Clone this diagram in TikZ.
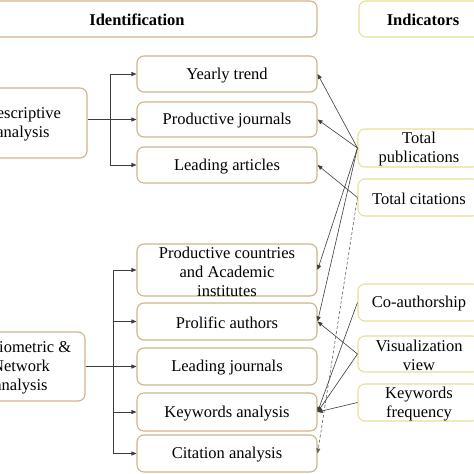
\documentclass[tikz,border=0pt]{standalone}
\usepackage{fontspec}
\setmainfont{Liberation Serif}
\usetikzlibrary{arrows.meta}
\definecolor{tanb}{RGB}{206,180,136}
\definecolor{yelb}{RGB}{232,224,150}
\definecolor{linec}{RGB}{60,60,60}
\begin{document}
\begin{tikzpicture}[x=1pt,y=-1pt,
  box/.style={draw=tanb, line width=1.1pt, rounded corners=7pt, fill=white, inner sep=0pt},
  ybox/.style={draw=yelb, line width=1.1pt, rounded corners=7pt, fill=white, inner sep=0pt},
  txt/.style={font=\fontsize{16.5}{19}\selectfont, align=center, inner sep=0pt, yshift=-1.5pt},
  btxt/.style={font=\fontsize{16.5}{19}\selectfont\bfseries, align=center, inner sep=0pt, yshift=-1pt},
  conn/.style={draw=linec, line width=0.6pt, -{Triangle[length=5pt,width=4pt]}},
  dconn/.style={conn, draw=linec!80, densely dashed},
  plain/.style={draw=linec, line width=0.6pt}]
\useasboundingbox (0,0) rectangle (474,474);
\fill[white] (0,0) rectangle (474,474);

% headers
\node[box, minimum width=360pt, minimum height=36pt, label={[btxt]center:Identification}] (ident) at (137,19) {};
\node[ybox, minimum width=128pt, minimum height=36pt, label={[btxt]center:Indicators}] (indic) at (423,19) {};

% left groups
\node[box, minimum width=128pt, minimum height=70pt, label={[txt]center:Descriptive\\analysis}] (da) at (23,123) {};
\node[box, minimum width=128pt, minimum height=69pt, label={[txt]center:Bibliometric \&\\Network\\analysis}] (bn) at (21,366.5) {};

% middle boxes
\node[box, minimum width=180pt, minimum height=36pt, label={[txt]center:Yearly trend}] (yt) at (227,74) {};
\node[box, minimum width=180pt, minimum height=35pt, label={[txt]center:Productive journals}] (pj) at (227,119.5) {};
\node[box, minimum width=180pt, minimum height=36pt, label={[txt]center:Leading articles}] (la) at (227,165) {};
\node[box, minimum width=180pt, minimum height=52pt, label={[txt]center:Productive countries\\and Academic\\institutes}] (pc) at (227,270) {};
\node[box, minimum width=180pt, minimum height=37pt, label={[txt]center:Prolific authors}] (pa) at (227,321.5) {};
\node[box, minimum width=180pt, minimum height=37pt, label={[txt]center:Leading journals}] (lj) at (227,366.5) {};
\node[box, minimum width=180pt, minimum height=38pt, label={[txt]center:Keywords analysis}] (kw) at (227,412) {};
\node[box, minimum width=180pt, minimum height=37pt, label={[txt]center:Citation analysis}] (ca) at (227,453.5) {};

% indicator boxes
\node[ybox, minimum width=122pt, minimum height=38pt, label={[txt]center:Total\\publications}] (tp) at (419,148) {};
\node[ybox, minimum width=122pt, minimum height=37pt, label={[txt]center:Total citations}] (tc) at (419,197.5) {};
\node[ybox, minimum width=122pt, minimum height=37pt, label={[txt]center:Co-authorship}] (co) at (419,302.5) {};
\node[ybox, minimum width=122pt, minimum height=36pt, label={[txt]center:Visualization\\view}] (vv) at (419,354) {};
\node[ybox, minimum width=122pt, minimum height=37pt, label={[txt]center:Keywords\\frequency}] (kf) at (419,402.5) {};

% descriptive connectors
\coordinate (j1) at (110,0);
\draw[conn] (da.east |- pj.west) -- (pj.west);
\draw[plain] (j1 |- yt.west) -- (j1 |- la.west);
\draw[conn] (j1 |- yt.west) -- (yt.west);
\draw[conn] (j1 |- la.west) -- (la.west);

% bibliometric connectors
\coordinate (j2) at (113,0);
\draw[conn] (bn.east |- lj.west) -- (lj.west);
\draw[plain] (j2 |- pc.west) -- (j2 |- ca.west);
\draw[conn] (j2 |- pc.west) -- (pc.west);
\draw[conn] (j2 |- pa.west) -- (pa.west);
\draw[conn] (j2 |- kw.west) -- (kw.west);
\draw[conn] (j2 |- ca.west) -- (ca.west);

% indicator connectors
\draw[conn] (tp.west) -- (yt.east);
\draw[conn] (tp.west) -- (pj.east);
\draw[conn] (tp.west) -- (pc.east);
\draw[conn] (tp.west) -- (pa.east);
\draw[conn] (tc.west) -- (la.east);
\draw[dconn] (tc.west) -- (ca.east);
\draw[conn] (co.west) -- (kw.east);
\draw[conn] (vv.west) -- (pa.east);
\draw[conn] (vv.west) -- (kw.east);
\draw[conn] (kf.west) -- (kw.east);
\end{tikzpicture}
\end{document}
